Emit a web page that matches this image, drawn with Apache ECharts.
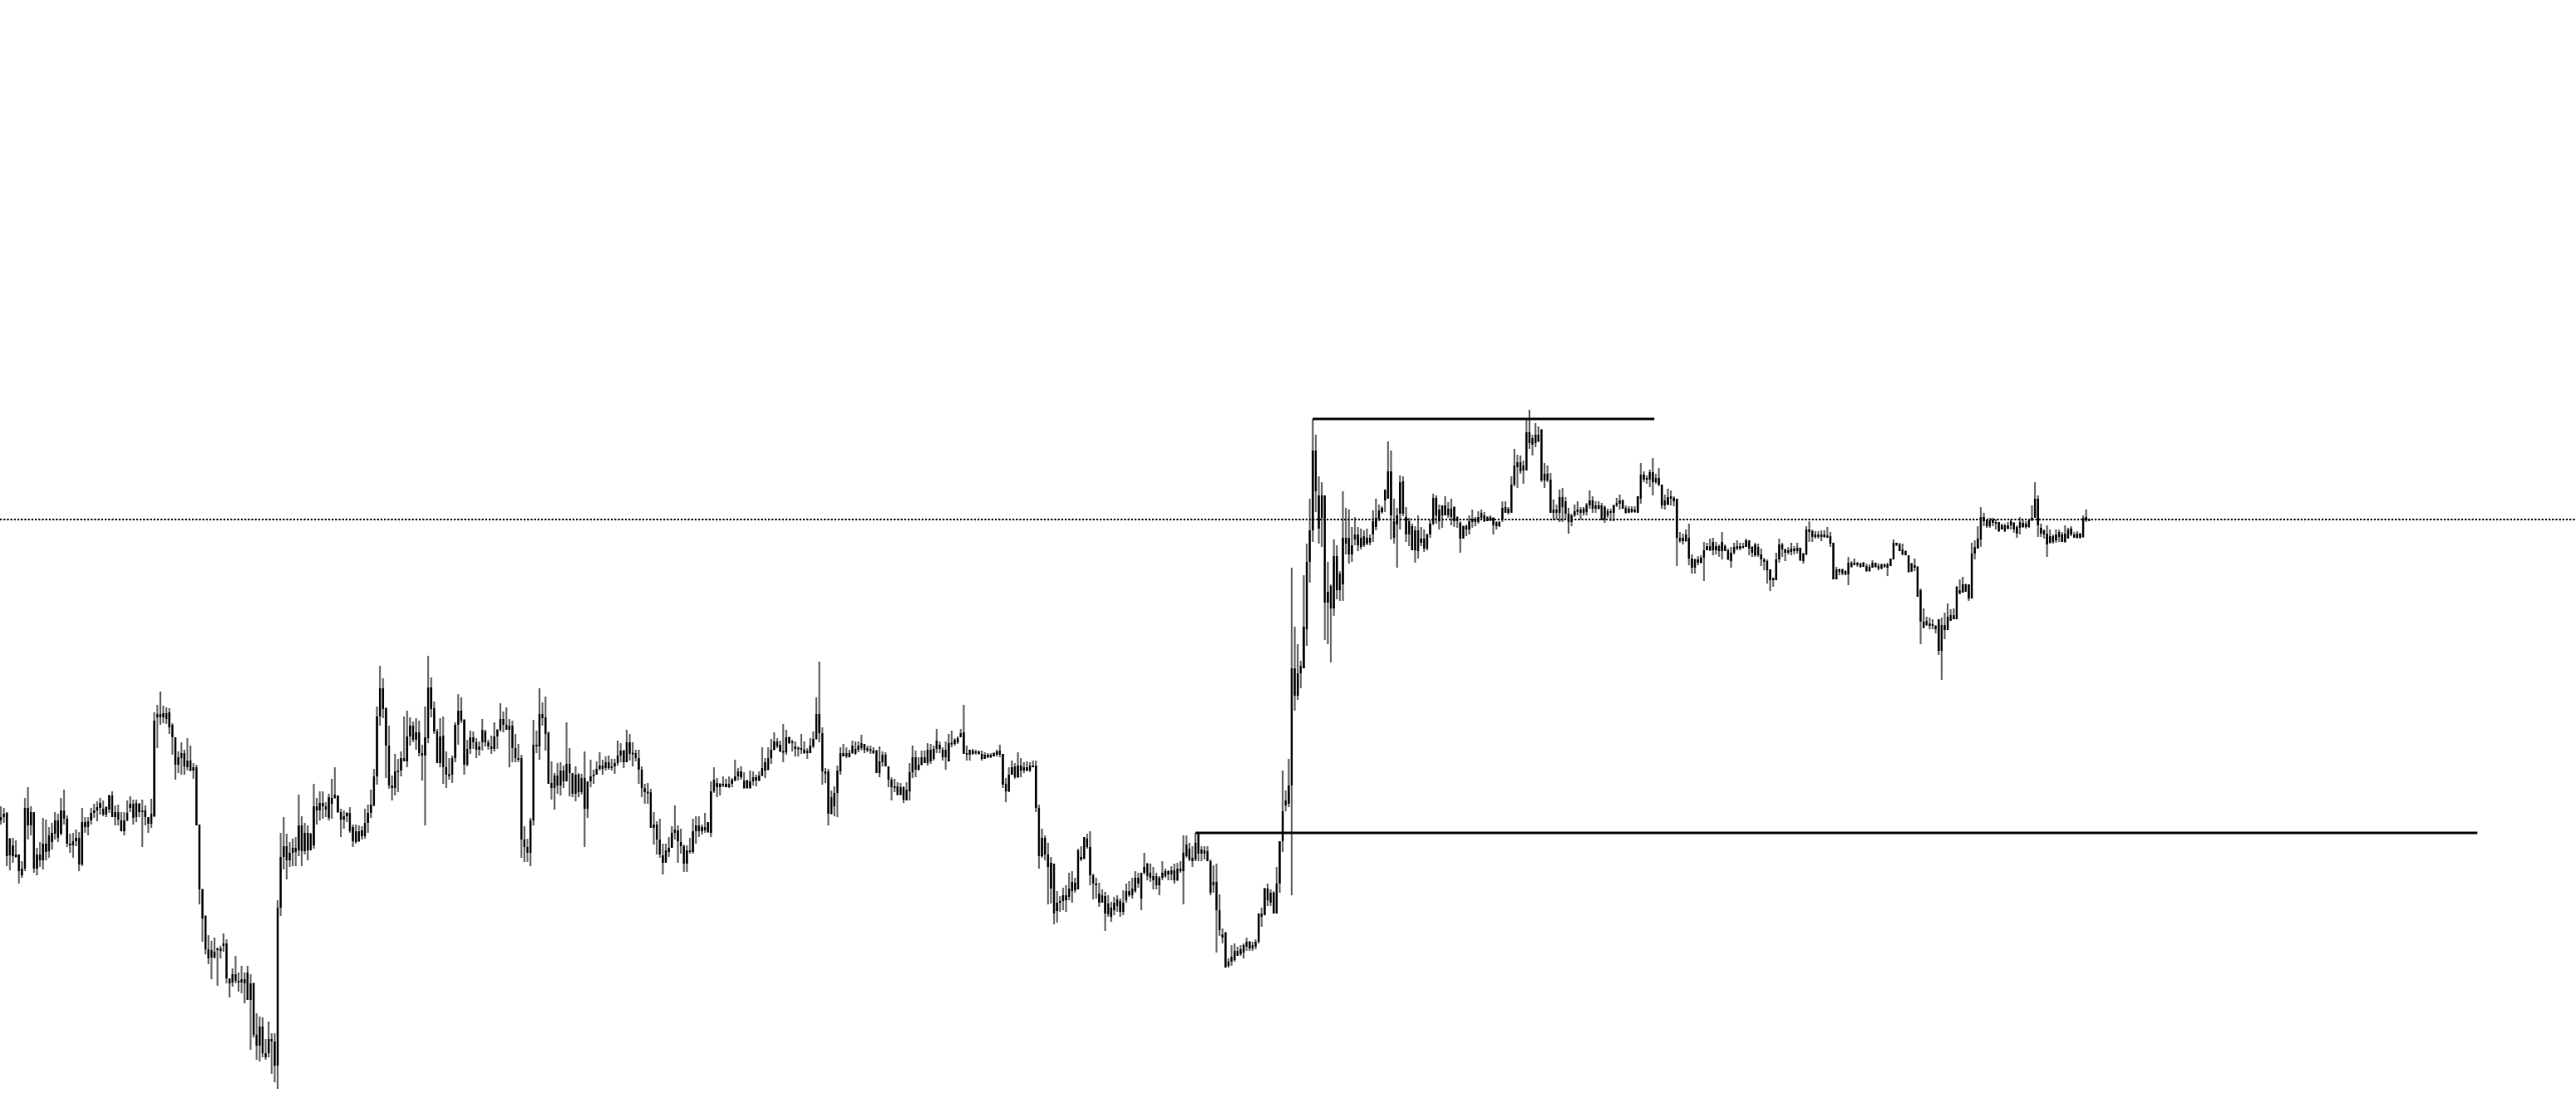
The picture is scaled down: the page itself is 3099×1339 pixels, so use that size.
<!DOCTYPE html>
<html><head><meta charset="utf-8">
<script src="https://cdn.jsdelivr.net/npm/echarts@6/dist/echarts.min.js"></script>
<style>html,body{margin:0;padding:0;background:#fff;overflow:hidden}#c{width:3099px;height:1339px}</style>
</head><body><div id="c"></div>
<script>
// Each candle: [open, close, low, high] in price points
const seg1 = [
[356,352,347,369],[356,360,349,367],[361,309,297,362],[310,330,292,331],[322,309,301,331],[311,308,307,328],[311,291,276,311],[286,294,283,303],[294,367,291,379],[367,346,329,392],
[346,362,334,369],[362,294,289,362],[294,311,286,319],[311,304,296,326],[304,324,293,355],[324,314,304,353],[315,334,307,344],[326,337,317,349],[336,352,329,362],[352,331,326,360],
[336,364,334,379],[364,354,347,389],[354,324,320,358],[324,322,313,336],[322,327,307,337],[327,331,321,341],[331,299,291,338],[299,350,297,367],[350,344,337,356],[344,351,334,356],
[352,361,347,367],[361,364,355,372],[364,368,351,375],[367,373,359,379],[366,359,357,376],[359,368,356,369],[365,382,361,383],[382,356,356,387],[356,362,346,370],[362,353,346,371],
[352,339,339,362],[339,352,334,362],[352,361,351,376],[367,372,362,381],[372,355,347,377],[356,373,350,377],[372,362,356,373],[362,364,320,377],[364,356,346,370],[356,348,337,356],
[348,360,343,378],[357,472,356,482],[476,480,439,491],[480,476,467,507],[476,481,469,490],[481,474,468,488],[482,464,456,487],[467,452,431,469],[452,419,401,452],[419,428,409,435],
[427,433,407,446],[433,417,407,437],[416,424,412,451],[424,412,411,442],[412,416,402,421],[416,346,346,419],[347,269,251,347],[269,234,206,270],[237,197,191,238],[197,186,179,214],
[187,196,161,207],[194,187,186,211],[196,198,153,199],[198,195,186,201],[201,204,194,216],[204,162,156,209],[162,156,139,162],[157,167,152,174],[167,159,156,189],[159,157,146,169],
[157,161,144,177],[161,156,132,169],[169,136,136,177],[136,156,76,167],[156,94,91,157],[94,81,64,120],[81,104,62,116],[104,72,67,115],[72,67,64,89],[72,89,67,110],
[89,86,47,96],[86,57,37,96],[57,247,29,256],[247,308,237,337],[308,321,293,356],[321,304,281,336],[304,313,296,326],[313,319,297,330],[319,314,297,332],[316,346,309,383],
[346,315,297,357],[315,337,311,349],[337,316,304,346],[316,336,316,337],[322,369,318,396],[369,364,347,379],[364,373,352,387],[373,369,354,387],[369,365,356,374],[380,355,352,384],
[372,379,354,402],[379,383,378,416],[382,362,361,382],[362,353,332,366],[353,357,342,364],[357,361,350,362]
];
const seg2 = [
[361,339,337,368],[344,327,320,347],[326,339,324,347],[339,327,326,346],[333,340,329,345],[333,349,330,366],[349,361,337,371],[361,371,355,389],[370,405,369,414],[405,477,395,489],
[477,511,466,538],[511,486,475,523],[487,442,403,488],[442,394,390,466],[394,391,376,406],[391,411,382,432],[410,412,386,426],[412,427,405,435],[427,423,423,477],[423,453,416,484],
[453,466,442,476],[466,449,446,471],[449,458,437,475],[458,433,429,472],[433,430,400,443],[430,452,346,489],[451,512,445,550],[512,486,476,524],[487,459,456,495],[459,421,421,462],
[421,453,416,475],[454,416,396,477],[416,407,391,435],[407,406,401,427],[407,427,397,430],[427,467,422,470],[467,484,443,504],[484,472,469,500],[473,419,407,474],[419,438,417,449],
[438,452,432,460],[452,446,438,459],[446,437,427,451],[437,441,430,447],[446,461,436,474],[459,446,441,461],[446,441,437,449],[441,438,432,454],[438,453,435,470],[453,461,438,462],
[461,474,459,493],[474,467,458,483],[467,461,461,488],[461,466,416,474],[466,439,422,472],[439,427,422,456],[427,425,422,444],[427,329,307,431],[329,320,302,345],[320,313,302,330],
[313,352,297,355],[352,443,346,473],[443,441,433,460],[441,480,425,511],[480,475,466,494],[476,456,436,501],[457,396,396,459],[397,391,377,423],[391,406,365,409],[406,394,384,421],
[394,412,382,422],[412,399,391,418],[399,420,399,470],[420,409,381,439],[409,384,380,409],[384,407,375,417],[407,386,380,409],[386,403,383,408],[403,366,320,435],[366,399,355,399],
[399,405,392,425],[405,407,396,413],[407,414,407,423],[414,418,412,434],[418,414,407,425],[415,422,412,429],[422,415,413,430],[415,417,412,426],[417,421,408,426],[421,430,418,448],
[430,436,422,445],[436,422,415,437],[422,446,422,461],[446,432,424,456],[432,433,417,446],[433,427,423,437],[427,413,396,437],[413,391,380,417],[391,386,372,396],[386,385,372,397],
[386,343,343,390],[343,347,323,362],[347,329,311,351],[329,311,307,354],[310,301,287,324],[301,316,301,324],[314,319,308,332],[319,337,319,345],[337,341,329,370],[340,327,301,346],
[326,321,312,342],[321,300,290,323],[300,316,290,322],[316,314,312,331],[314,339,312,354],[339,346,324,357]
];
const seg3 = [
[346,339,332,357],[339,344,335,347],[344,340,337,361],[350,338,337,350],[337,387,332,399],[387,401,385,416],[397,392,380,403],[392,396,382,397],[396,394,392,405],[396,392,392,402],
[392,396,391,405],[396,401,392,403],[400,405,399,425],[405,411,400,415],[411,404,401,417],[400,391,390,410],[391,400,390,401],[391,399,390,412],[399,404,394,411],[404,400,393,407],
[400,406,399,411],[406,415,405,440],[412,422,403,427],[413,427,412,440],[427,437,420,450],[437,447,436,458],[447,441,439,451],[443,435,434,448],[435,434,422,468],[434,452,431,461],
[452,445,444,453],[445,447,435,449],[441,438,429,447],[438,439,429,441],[439,437,432,456],[437,433,432,447],[433,436,426,439],[433,442,433,451],[441,450,439,459],[450,480,449,500],
[480,457,446,543],[457,411,395,464],[411,408,397,415],[411,360,346,414],[360,380,359,388],[385,369,357,393],[385,412,356,418],[411,433,407,440],[433,429,429,444],[429,433,427,440],
[433,428,428,437],[433,442,432,448],[438,432,431,447],[437,442,434,447],[439,445,436,455],[444,437,433,444],[439,436,434,442],[436,437,432,442],[436,433,432,440],[436,409,409,437],
[409,423,404,441],[422,431,417,435],[431,417,417,434],[417,401,392,417],[401,392,376,404],[393,391,386,402],[393,383,382,398],[383,392,382,397],[392,377,373,393],[389,376,376,398],
[387,410,376,421],[410,428,403,442],[428,413,404,436],[413,419,412,428],[419,428,418,436],[428,421,421,436],[421,437,418,445],[437,423,420,444],[426,438,424,442],[438,448,433,462],
[443,438,433,447],[437,428,424,440],[428,437,413,447],[423,445,423,456],[445,444,440,460],[444,449,442,451],[446,451,444,453],[452,457,452,462],[458,432,432,491],[433,431,424,442],
[431,437,424,437],[436,432,431,438],[435,433,431,437],[435,432,431,436],[432,426,424,436],[426,431,426,434],[431,428,427,433],[428,431,427,433],[429,433,429,434],[431,435,429,437],
[431,436,428,443],[432,395,391,432],[396,387,374,403],[387,407,386,416],[407,416,407,424],[417,404,402,421],[404,418,403,434],[418,412,404,427],[412,416,409,422],[416,412,411,423],
[412,418,410,422],[418,416,416,424],[418,367,362,424],[367,309,294,371],[309,331,307,342],[331,311,304,334]
];
const seg4 = [
[311,296,251,325],[301,270,252,308],[300,240,227,300],[243,253,229,267],[253,255,242,261],[255,262,244,271],[262,256,242,274],[260,270,256,289],[267,278,253,291],[268,277,265,283],
[269,316,269,318],[305,308,303,321],[306,332,305,332],[330,320,318,336],[320,286,274,339],[286,276,257,288],[276,274,258,283],[264,253,248,277],[253,262,253,269],[261,240,219,266],
[252,239,236,262],[236,247,230,254],[244,253,238,260],[249,257,242,262],[255,242,236,258],[242,253,238,268],[256,267,253,276],[267,262,260,279],[262,270,258,283],[267,283,265,291],
[283,276,271,289],[258,289,244,289],[289,296,287,313],[300,285,280,301],[289,283,278,300],[285,280,269,296],[285,274,269,289],[274,283,262,285],[283,289,280,303],[285,291,283,294],
[291,287,280,292],[287,292,280,297],[292,280,276,300],[280,294,279,301],[294,291,289,303],[291,313,251,334],[309,323,307,334],[318,305,303,325],[307,303,296,321],[305,325,303,337],
[312,336,303,337],[317,312,303,321],[312,316,305,321],[315,303,303,321],[303,265,262,305],[274,278,265,298],[278,244,193,300],[244,220,213,263],[215,211,204,222],[217,175,175,218],
[177,182,175,186],[182,188,177,202],[184,195,182,204],[195,189,189,200],[191,197,189,202],[193,202,186,204],[200,206,195,211],[206,198,195,207],[198,202,195,206],[200,206,197,209],
[206,240,204,240],[240,236,224,247],[238,270,238,271],[270,256,249,276],[253,265,249,269],[265,240,240,267],[240,276,240,296],[276,327,265,327],[327,363,314,412],[370,376,363,388],
[372,394,368,426],[394,535,262,656],[535,502,484,585],[502,529,497,564],[529,538,511,544],[535,585,535,647],[582,663,562,685],[663,701,638,739],[701,797,687,835],[797,748,723,816],
[743,703,685,766],[716,743,681,759],[743,614,569,743],[614,627,564,663],[634,607,542,636],[607,670,598,690],[670,629,618,683],[629,649,616,652],[636,692,616,748],[692,685,672,728],
[692,672,661,726],[672,683,663,705],[690,696,683,717],[696,683,676,705],[681,692,678,703],[683,694,681,701],[692,685,683,703],[686,692,683,696],[696,712,687,725],[705,716,701,739],
[714,725,712,732],[723,728,721,730],[737,750,723,750],[739,772,739,808],[772,719,690,797],[712,692,685,739],[708,719,656,728]
];
const seg5 = [
[759,721,702,767],[721,760,718,766],[717,696,687,729],[696,712,682,716],[706,677,677,709],[677,701,662,706],[701,676,667,719],[686,691,682,705],[691,679,675,702],[679,696,677,697],
[696,709,692,714],[709,740,707,745],[740,719,709,743],[712,726,702,732],[719,731,704,731],[731,719,719,742],[719,727,716,735],[727,717,707,739],[729,712,705,730],[712,717,704,718],
[710,691,674,712],[691,706,692,707],[706,702,694,708],[702,712,696,719],[711,715,704,726],[715,711,706,717],[711,717,709,724],[716,722,714,726],[719,712,711,723],[712,717,712,718],
[717,713,712,719],[716,707,696,717],[706,711,702,712],[711,706,705,712],[714,728,711,736],[729,722,722,736],[722,727,720,729],[722,756,722,766],[756,779,754,799],[777,783,752,792],
[783,772,769,791],[773,779,757,785],[773,819,773,834],[819,806,799,846],[804,812,791,816],[806,816,801,830],[816,808,807,826],[822,761,759,823],[761,769,752,782],[769,761,759,779],
[762,722,722,770],[722,726,713,738],[726,722,714,732],[722,741,711,750],[741,729,711,752],[736,721,714,741],[721,711,697,728],[711,719,706,721],[719,724,717,732],[723,726,719,736],
[726,722,714,729],[722,727,719,729],[723,732,719,734],[731,737,727,749],[737,727,722,742],[727,731,722,736],[731,727,726,736],[731,714,713,734],[714,729,710,731],[724,719,716,727],
[722,724,712,727],[722,731,712,732],[731,734,729,740],[733,737,726,744],[737,727,727,738],[728,722,721,731],[722,727,722,730],[727,723,722,730],[723,726,722,730],[722,742,722,742],
[739,768,733,782],[768,762,759,772],[762,764,757,767],[762,771,753,774],[771,759,743,788],[759,764,757,769],[764,756,754,776],[756,731,727,756],[731,737,726,744],[732,741,731,751],
[739,742,731,749],[740,736,730,742],[739,692,658,739],[692,688,686,699],[688,692,684,697],[696,688,687,702],[692,667,659,709],[667,656,649,672],[656,666,649,667],[666,662,659,670],
[662,668,661,671],[668,677,640,687],[677,682,677,686],[682,677,676,691],[677,687,671,692],[682,677,672,687],[676,682,669,684],[676,687,666,699],[682,676,676,684],[677,666,665,679],
[674,664,656,681],[674,681,672,686],[679,682,677,689],[682,679,677,686],[680,682,679,686],[681,689,681,691]
];
const seg6 = [
[689,679,671,689],[674,681,669,682],[684,671,669,686],[671,681,669,685],[672,666,658,679],[666,663,653,668],[664,653,637,666],[654,641,628,654],[641,644,633,644],[641,666,641,674],
[666,684,662,691],[684,678,669,686],[678,674,664,679],[674,677,672,681],[675,679,671,686],[679,676,672,682],[676,680,673,686],[680,665,664,680],[673,664,661,674],[672,702,671,706],
[702,699,687,712],[700,693,687,702],[693,696,691,700],[696,693,691,700],[693,696,688,701],[696,693,692,701],[695,692,692,705],[694,685,681,699],[686,642,642,686],[642,654,642,657],
[654,651,647,655],[649,654,647,655],[652,648,647,653],[648,662,635,669],[662,657,656,664],[659,662,659,667],[662,659,657,663],[661,657,656,662],[657,662,657,663],[658,652,651,661],
[652,657,651,660],[656,662,656,665],[662,657,656,662],[658,655,653,661],[655,660,654,661],[660,657,656,661],[656,660,646,662],[658,667,658,667],[666,686,666,690],[686,683,682,686],
[684,676,676,686],[678,672,671,685],[676,671,671,677],[671,651,650,671],[651,661,651,662],[659,656,652,667],[657,621,621,658],[629,591,564,631],[591,584,583,607],[587,592,586,597],
[589,586,582,596],[586,588,582,594],[586,582,577,587],[594,556,551,594],[556,587,521,596],[587,581,570,602],[581,597,581,613],[592,599,592,606],[594,599,594,607],[594,633,594,634],
[629,625,624,642],[626,636,626,645],[636,627,627,637],[636,619,616,636],[619,673,619,686],[673,681,666,689],[679,691,679,706],[690,717,681,729],[717,712,706,722],[713,706,704,714],
[706,713,704,716],[710,714,706,716],[711,709,702,714],[711,700,699,711],[702,707,702,709],[707,700,699,709],[703,707,702,711],[707,712,702,714],[710,702,698,711],[705,697,692,707],
[704,711,696,717],[710,705,704,714],[705,709,703,712],[705,713,704,714],[713,716,712,731],[716,739,716,759],[739,707,693,743],[704,697,693,709],[696,701,691,702],[697,684,669,707],
[686,694,685,702],[694,687,685,696],[689,696,686,702],[693,699,687,702],[696,687,687,699],[687,697,686,707],[702,691,691,704],[696,703,694,706],[696,692,692,699],[692,697,691,700],
[697,692,691,698],[693,716,692,719],[717,713,711,726],[713,714,712,715]
];
const candles = seg1.concat(seg2, seg3, seg4, seg5, seg6);

// Horizontal levels: [barIndex, price]
const upperLine = [[436, 835], [549.5, 835]];
const lowerLine = [[397, 337], [823, 337]];
const dottedLevel = 714;

const X_MIN = -0.28, X_MAX = 855.8;
const Y_MIN = 0, Y_MAX = 1339;

const chart = echarts.init(document.getElementById('c'), null, {renderer: 'canvas'});
const data = candles.map(function (d, i) { return [i, d[0], d[1], d[2], d[3]]; });

function renderItem(params, api) {
  var i = api.value(0), o = api.value(1), c = api.value(2), l = api.value(3), h = api.value(4);
  var hi = Math.max(h, o, c), lo = Math.min(l, o, c);
  var pH = api.coord([i, hi]), pL = api.coord([i, lo]);
  var pO = api.coord([i, o]), pC = api.coord([i, c]);
  var ww = 2.2, wb = 2.4;
  var top = Math.min(pO[1], pC[1]), bot = Math.max(pO[1], pC[1]);
  if (bot - top < 2) { var m = (top + bot) / 2; top = m - 1; bot = m + 1; }
  return {
    type: 'group',
    children: [
      { type: 'rect', shape: { x: pH[0] - ww / 2, y: pH[1], width: ww, height: Math.max(1, pL[1] - pH[1]) }, style: { fill: '#666666' } },
      { type: 'rect', shape: { x: pO[0] - wb / 2, y: top, width: wb, height: bot - top }, style: { fill: '#000000' } }
    ]
  };
}

chart.setOption({
  animation: false,
  backgroundColor: '#ffffff',
  grid: { left: 0, right: 0, top: 0, bottom: 0 },
  xAxis: { type: 'value', min: X_MIN, max: X_MAX, show: false },
  yAxis: { type: 'value', min: Y_MIN, max: Y_MAX, show: false },
  series: [
    { type: 'custom', data: data, encode: { x: 0, y: [1, 2, 3, 4] }, renderItem: renderItem, clip: true, z: 2 },
    { type: 'line', data: [[X_MIN, dottedLevel], [X_MAX, dottedLevel]], symbol: 'none', silent: true, z: 3,
      lineStyle: { color: '#000', width: 2.2, type: [2.2, 2] } },
    { type: 'line', data: upperLine, symbol: 'none', silent: true, z: 4, lineStyle: { color: '#000', width: 3 } },
    { type: 'line', data: lowerLine, symbol: 'none', silent: true, z: 4, lineStyle: { color: '#000', width: 3 } }
  ]
});
</script>
</body></html>
